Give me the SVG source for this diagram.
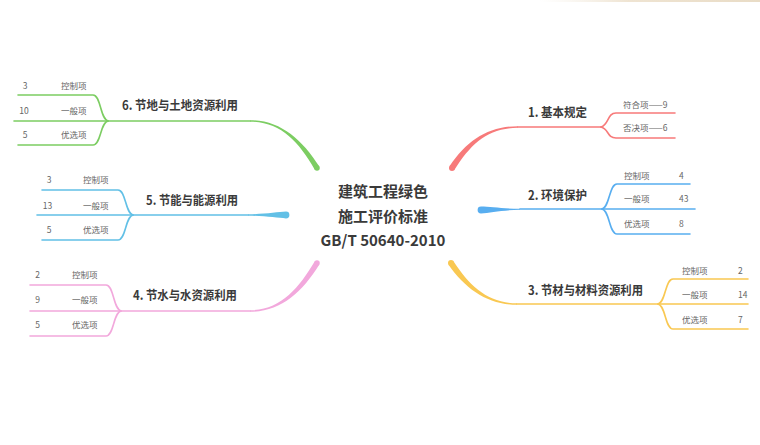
<svg xmlns="http://www.w3.org/2000/svg" width="760" height="445" viewBox="0 0 760 445">
<defs>
<linearGradient id="topline" x1="0" y1="0" x2="1" y2="0">
<stop offset="0" stop-color="#f3ece0" stop-opacity="0"/>
<stop offset="0.4" stop-color="#efe4d2"/>
<stop offset="1" stop-color="#e9dcc6"/>
</linearGradient>
</defs>
<style>
text{font-family:"Noto Sans CJK SC","Noto Sans",sans-serif;}
.t{font-size:12.5px;font-weight:bold;fill:#3a3a3a;}
.s{font-size:8.5px;fill:#666;}
.c{font-size:15px;font-weight:bold;fill:#3a3a3a;text-anchor:middle;}
.ln{fill:none;stroke-width:1.6;stroke-linecap:round;}
.g{stroke:#7ccd62;} .gf{fill:#7ccd62;}
.b5{stroke:#62c0e6;} .b5f{fill:#62c0e6;}
.p{stroke:#f2a8dc;} .pf{fill:#f2a8dc;}
.r{stroke:#f77a7a;} .rf{fill:#f77a7a;}
.b2{stroke:#58aef0;} .b2f{fill:#58aef0;}
.y{stroke:#f9c852;} .yf{fill:#f9c852;}
</style>
<rect x="0" y="0" width="760" height="445" fill="#ffffff"/>
<rect x="540" y="0" width="220" height="2" fill="url(#topline)"/>

<g id="connectors">
<!-- branch 6 green -->
<path class="gf" d="M319.35,166.58 C301.7,139 280,120.25 250,120.25 L250,121.75 C280,121.75 298.3,141 314.65,169.42 Z"/>
<circle class="gf" cx="317" cy="168" r="2.75"/>
<path class="ln g" d="M14,121 L250,121"/>
<path class="ln g" d="M108,121 C100,119 101,95 93,95 L18,95"/>
<path class="ln g" d="M108,121 C100,123 101,145 93,145 L18,145"/>
<!-- branch 5 blue -->
<path class="b5f" d="M248,214.25 C265,214.2 278,212 286,211.6 A3.4,3.4 0 0 1 286,218.4 C278,218 265,215.8 248,215.75 Z"/>
<path class="ln b5" d="M37,215 L248,215"/>
<path class="ln b5" d="M133,215 C125,213 126,190 118,190 L42,190"/>
<path class="ln b5" d="M133,215 C125,217 126,240 118,240 L42,240"/>
<!-- branch 4 pink -->
<path class="pf" d="M314.65,261.58 C298.3,289 280,310.25 250,310.25 L250,311.75 C280,311.75 301.7,293 319.35,264.42 Z"/>
<circle class="pf" cx="317" cy="263" r="2.75"/>
<path class="ln p" d="M30,311 L250,311"/>
<path class="ln p" d="M121,311 C113,309 114,285 106,285 L30,285"/>
<path class="ln p" d="M121,311 C113,313 114,336 106,336 L30,336"/>
<!-- branch 1 red -->
<path class="rf" d="M454.51,169.64 C471,143.5 488,127.75 518,127.75 L518,126.25 C488,126.25 467,140.5 449.49,166.36 Z"/>
<circle class="rf" cx="452" cy="168" r="3"/>
<path class="ln r" d="M518,127 L601,127"/>
<path class="ln r" d="M601,127 C609,125 607,113 616,113 L675,113"/>
<path class="ln r" d="M601,127 C609,129 607,138 616,138 L675,138"/>
<!-- branch 2 blue -->
<path class="b2f" d="M520,208.75 C503,208.7 490,206.8 481,206.6 A3.4,3.4 0 0 0 481,213.4 C490,213 503,209.8 520,209.75 Z"/>
<path class="ln b2" d="M520,209 L695,209"/>
<path class="ln b2" d="M602,209 C610,207 609,184 617,184 L690,184"/>
<path class="ln b2" d="M602,209 C610,211 609,234 617,234 L690,234"/>
<!-- branch 3 yellow -->
<path class="yf" d="M448.52,264.69 C466,289.5 488,304.75 517,304.75 L517,303.25 C488,303.25 470,286.5 453.48,261.31 Z"/>
<circle class="yf" cx="451" cy="263" r="3"/>
<path class="ln y" d="M517,304 L748,304"/>
<path class="ln y" d="M658,304 C666,302 665,279 673,279 L748,279"/>
<path class="ln y" d="M658,304 C666,306 665,329 673,329 L748,329"/>
</g>

<g id="center">
<text class="c" x="383" y="197">建筑工程绿色</text>
<text class="c" x="383" y="222">施工评价标准</text>
<text class="c" x="383" y="246">GB/T 50640-2010</text>
</g>

<g id="n6">
<text class="t" x="122" y="109.5" textLength="116" lengthAdjust="spacingAndGlyphs">6. 节地与土地资源利用</text>
<text class="s" x="25" y="89" text-anchor="middle">3</text>
<text class="s" x="61" y="89">控制项</text>
<text class="s" x="24" y="114" text-anchor="middle">10</text>
<text class="s" x="61" y="114">一般项</text>
<text class="s" x="25" y="138" text-anchor="middle">5</text>
<text class="s" x="61" y="138">优选项</text>
</g>

<g id="n5">
<text class="t" x="146" y="204.5" textLength="92" lengthAdjust="spacingAndGlyphs">5. 节能与能源利用</text>
<text class="s" x="49" y="183" text-anchor="middle">3</text>
<text class="s" x="83" y="183">控制项</text>
<text class="s" x="47.5" y="209" text-anchor="middle">13</text>
<text class="s" x="83" y="209">一般项</text>
<text class="s" x="49" y="233" text-anchor="middle">5</text>
<text class="s" x="83" y="233">优选项</text>
</g>

<g id="n4">
<text class="t" x="133" y="299.5" textLength="104" lengthAdjust="spacingAndGlyphs">4. 节水与水资源利用</text>
<text class="s" x="37.5" y="278" text-anchor="middle">2</text>
<text class="s" x="72" y="278">控制项</text>
<text class="s" x="37.5" y="303" text-anchor="middle">9</text>
<text class="s" x="72" y="303">一般项</text>
<text class="s" x="37.5" y="328" text-anchor="middle">5</text>
<text class="s" x="72" y="328">优选项</text>
</g>

<g id="n1">
<text class="t" x="528" y="116.5" textLength="59" lengthAdjust="spacingAndGlyphs">1. 基本规定</text>
<text class="s" x="623" y="108">符合项——9</text>
<text class="s" x="623" y="131">否决项——6</text>
</g>

<g id="n2">
<text class="t" x="528" y="199.5" textLength="59" lengthAdjust="spacingAndGlyphs">2. 环境保护</text>
<text class="s" x="624" y="179">控制项</text>
<text class="s" x="679" y="179">4</text>
<text class="s" x="624" y="202">一般项</text>
<text class="s" x="679" y="202">43</text>
<text class="s" x="624" y="227">优选项</text>
<text class="s" x="679" y="227">8</text>
</g>

<g id="n3">
<text class="t" x="528" y="294.5" textLength="115" lengthAdjust="spacingAndGlyphs">3. 节材与材料资源利用</text>
<text class="s" x="682" y="274">控制项</text>
<text class="s" x="738" y="274">2</text>
<text class="s" x="682" y="298">一般项</text>
<text class="s" x="738" y="298">14</text>
<text class="s" x="682" y="323">优选项</text>
<text class="s" x="738" y="323">7</text>
</g>
</svg>
